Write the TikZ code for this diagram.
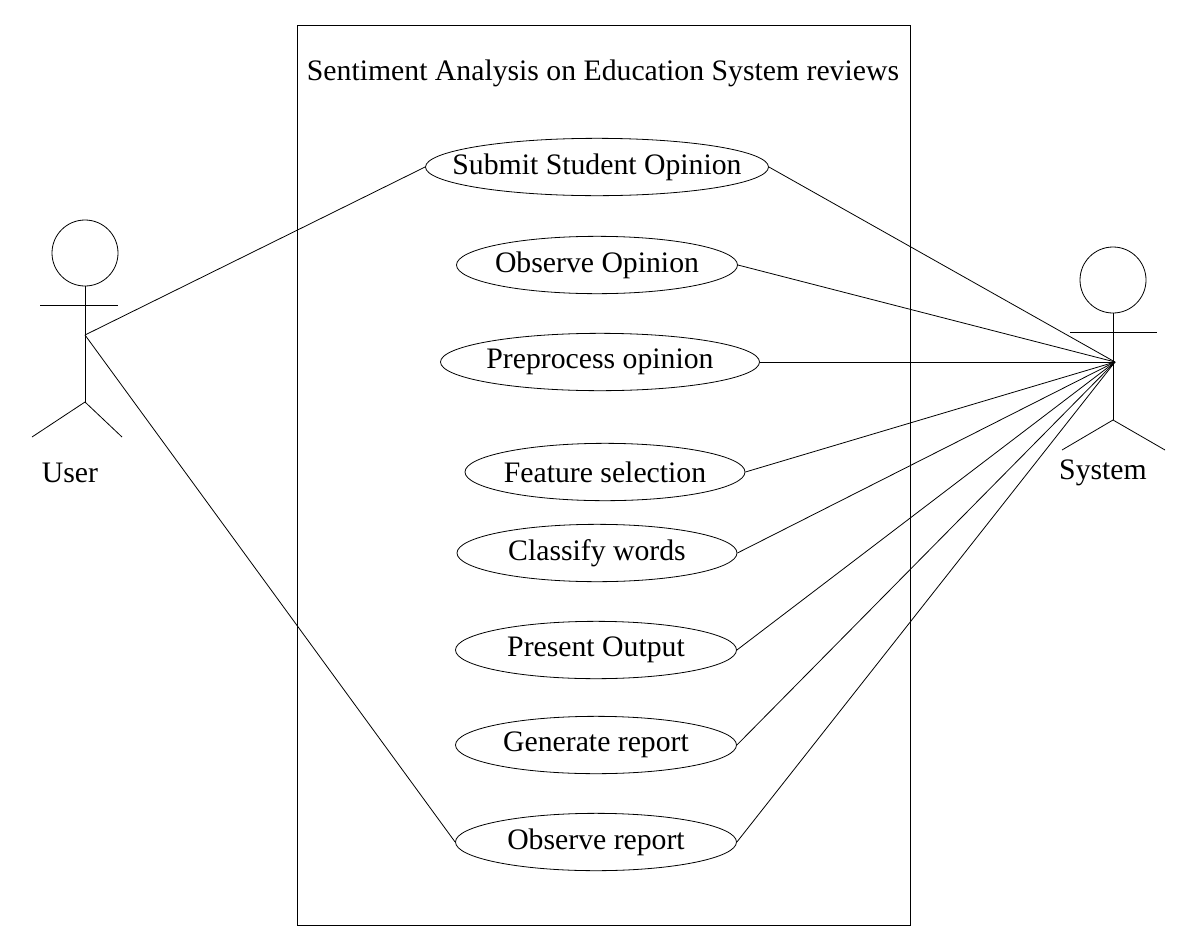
\documentclass[tikz,border=0pt]{standalone}
\usepackage{fontspec}
\setmainfont{Liberation Serif}
\usetikzlibrary{shapes.geometric}

\tikzset{
  usecase/.style={draw, ellipse, minimum width=#1*0.75pt, minimum height=43pt, inner ysep=0pt, inner xsep=-30pt},
  assoc/.style={draw, line width=0.6pt},
  lbl/.style={font=\fontsize{22.3}{26}\selectfont}
}

\begin{document}
\begin{tikzpicture}[x=0.75pt, y=-0.75pt, line width=0.6pt]
\useasboundingbox (0,0) rectangle (1192,946);

\draw (297,25) rectangle (910,925); % system boundary
\node[lbl] (title) at (603,73) {Sentiment Analysis on Education System reviews};

% use cases
\node[usecase=343, lbl] (submit) at (597,167) {Submit Student Opinion};
\node[usecase=281, lbl] (observe) at (597,265) {Observe Opinion};
\node[usecase=319, lbl] (prep) at (600,362) {Preprocess opinion};
\node[usecase=280, lbl] (feat) at (605,472) {Feature selection};
\node[usecase=280, lbl] (classify) at (597,553) {Classify words};
\node[usecase=281, lbl] (present) at (596,650) {Present Output};
\node[usecase=281, lbl] (gen) at (596,745) {Generate report};
\node[usecase=281, lbl] (obsrep) at (596,842) {Observe report};

% user actor
\draw (85,253) circle (33*0.75pt);
\draw (85,286) -- (85,402);
\draw (40,305) -- (118,305);
\draw (85,402) -- (32,437);
\draw (85,402) -- (122,437);
\coordinate (user) at (85,335);
\node[lbl] (userlbl) at (70,473) {User};

% system actor
\draw (1113,280) circle (33*0.75pt);
\draw (1113,313) -- (1113,420);
\draw (1070,332) -- (1157,332);
\draw (1113,420) -- (1062,450);
\draw (1113,420) -- (1165,450);
\coordinate (sys) at (1115,362);
\node[lbl] (syslbl) at (1103,473) {System};

% associations
\draw[assoc] (user) -- (submit.west);
\draw[assoc] (user) -- (obsrep.west);
\foreach \u in {submit,observe,prep,feat,classify,present,gen,obsrep}
  \draw[assoc] (sys) -- (\u.east);

\end{tikzpicture}
\end{document}
